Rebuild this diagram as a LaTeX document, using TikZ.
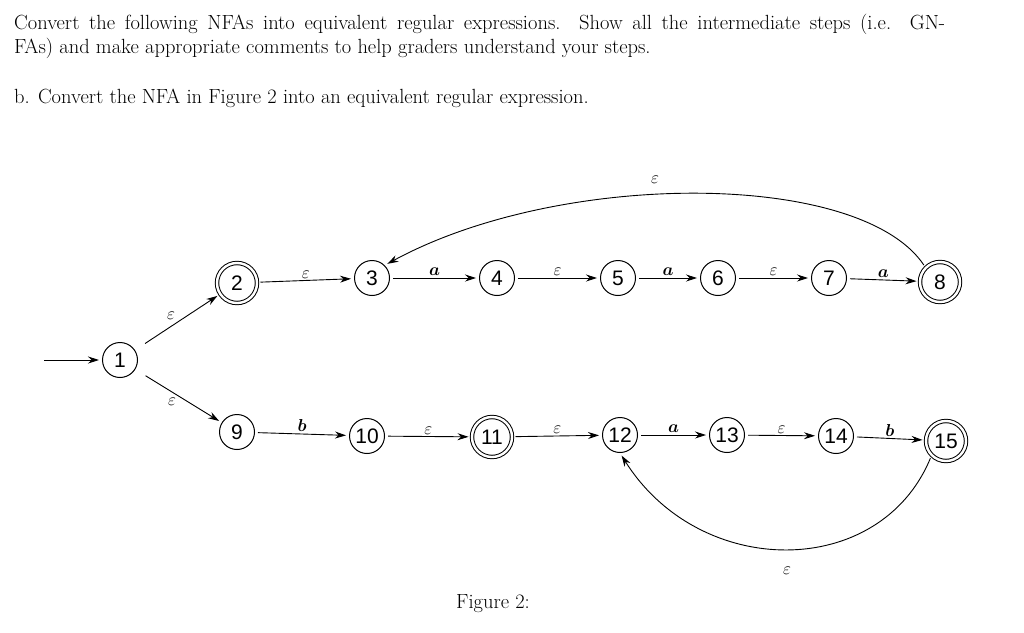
\documentclass[tikz,border=0pt]{standalone}
\usepackage{amsmath}
\usepackage{fontspec}
\newfontfamily\nodefont{Liberation Sans}
\usetikzlibrary{arrows.meta}
\begin{document}
\begin{tikzpicture}[x=1pt,y=-1pt,
  st/.style={circle,draw,line width=1pt,minimum size=35pt,inner sep=0pt,font=\nodefont\fontsize{21}{24}\selectfont},
  acc/.style={st,double,double distance=2.4pt,minimum size=40pt},
  tr/.style={-{Stealth[length=11pt,width=7pt]},line width=0.9pt,shorten >=3pt,shorten <=3pt},
  lb/.style={font=\fontsize{19}{22}\selectfont,inner sep=2pt},
  body/.style={anchor=north west,inner sep=0pt,font=\fontsize{20.5}{24}\selectfont}]
\useasboundingbox (0,0) rectangle (1024,632);
\node[body] (t1) at (14,14) {\hbox to 931pt{Convert the following NFAs into equivalent regular expressions. Show all the intermediate steps (i.e. GN-}};
\node[body] (t2) at (14,38) {FAs) and make appropriate comments to help graders understand your steps.};
\node[body] (t3) at (14,89) {b. Convert the NFA in Figure 2 into an equivalent regular expression.};
\node[font=\fontsize{20.5}{24}\selectfont] (fig) at (493,604) {Figure 2:};
\node[st] (n1) at (120,360) {1};
\node[acc] (n2) at (237,283) {2};
\node[st] (n3) at (372,278) {3};
\node[st] (n4) at (497,278) {4};
\node[st] (n5) at (618,278) {5};
\node[st] (n6) at (718,278) {6};
\node[st] (n7) at (829,278) {7};
\node[acc] (n8) at (940,282) {8};
\node[st] (n9) at (237,432) {9};
\node[st] (n10) at (367,436) {10};
\node[acc] (n11) at (492,437) {11};
\node[st] (n12) at (620,435) {12};
\node[st] (n13) at (727,435) {13};
\node[st] (n14) at (836,436) {14};
\node[acc] (n15) at (946,441) {15};
\coordinate (start) at (44,360);
\draw[tr,shorten <=0pt] (start) -- (n1);
\draw[tr,shorten <=12pt] (n1) -- node[lb,above left] {$\varepsilon$} (n2);
\draw[tr,shorten <=12pt] (n1) -- node[lb,below left] {$\varepsilon$} (n9);
\draw[tr] (n2) -- node[lb,above] {$\varepsilon$} (n3);
\draw[tr] (n3) -- node[lb,above] {$\boldsymbol{a}$} (n4);
\draw[tr] (n4) -- node[lb,above] {$\varepsilon$} (n5);
\draw[tr] (n5) -- node[lb,above] {$\boldsymbol{a}$} (n6);
\draw[tr] (n6) -- node[lb,above] {$\varepsilon$} (n7);
\draw[tr] (n7) -- node[lb,above] {$\boldsymbol{a}$} (n8);
\draw[tr] (n9) -- node[lb,above] {$\boldsymbol{b}$} (n10);
\draw[tr] (n10) -- node[lb,above] {$\varepsilon$} (n11);
\draw[tr] (n11) -- node[lb,above] {$\varepsilon$} (n12);
\draw[tr] (n12) -- node[lb,above] {$\boldsymbol{a}$} (n13);
\draw[tr] (n13) -- node[lb,above] {$\varepsilon$} (n14);
\draw[tr] (n14) -- node[lb,above] {$\boldsymbol{b}$} (n15);
\draw[tr] (n8.north west) .. controls (860,170) and (560,170) .. (n3.north east);
\node[lb] (e1) at (655,180) {$\varepsilon$};
\draw[tr] (n15.south west) .. controls (880,580) and (700,580) .. (n12.south);
\node[lb] (e2) at (787,571) {$\varepsilon$};
\end{tikzpicture}
\end{document}
